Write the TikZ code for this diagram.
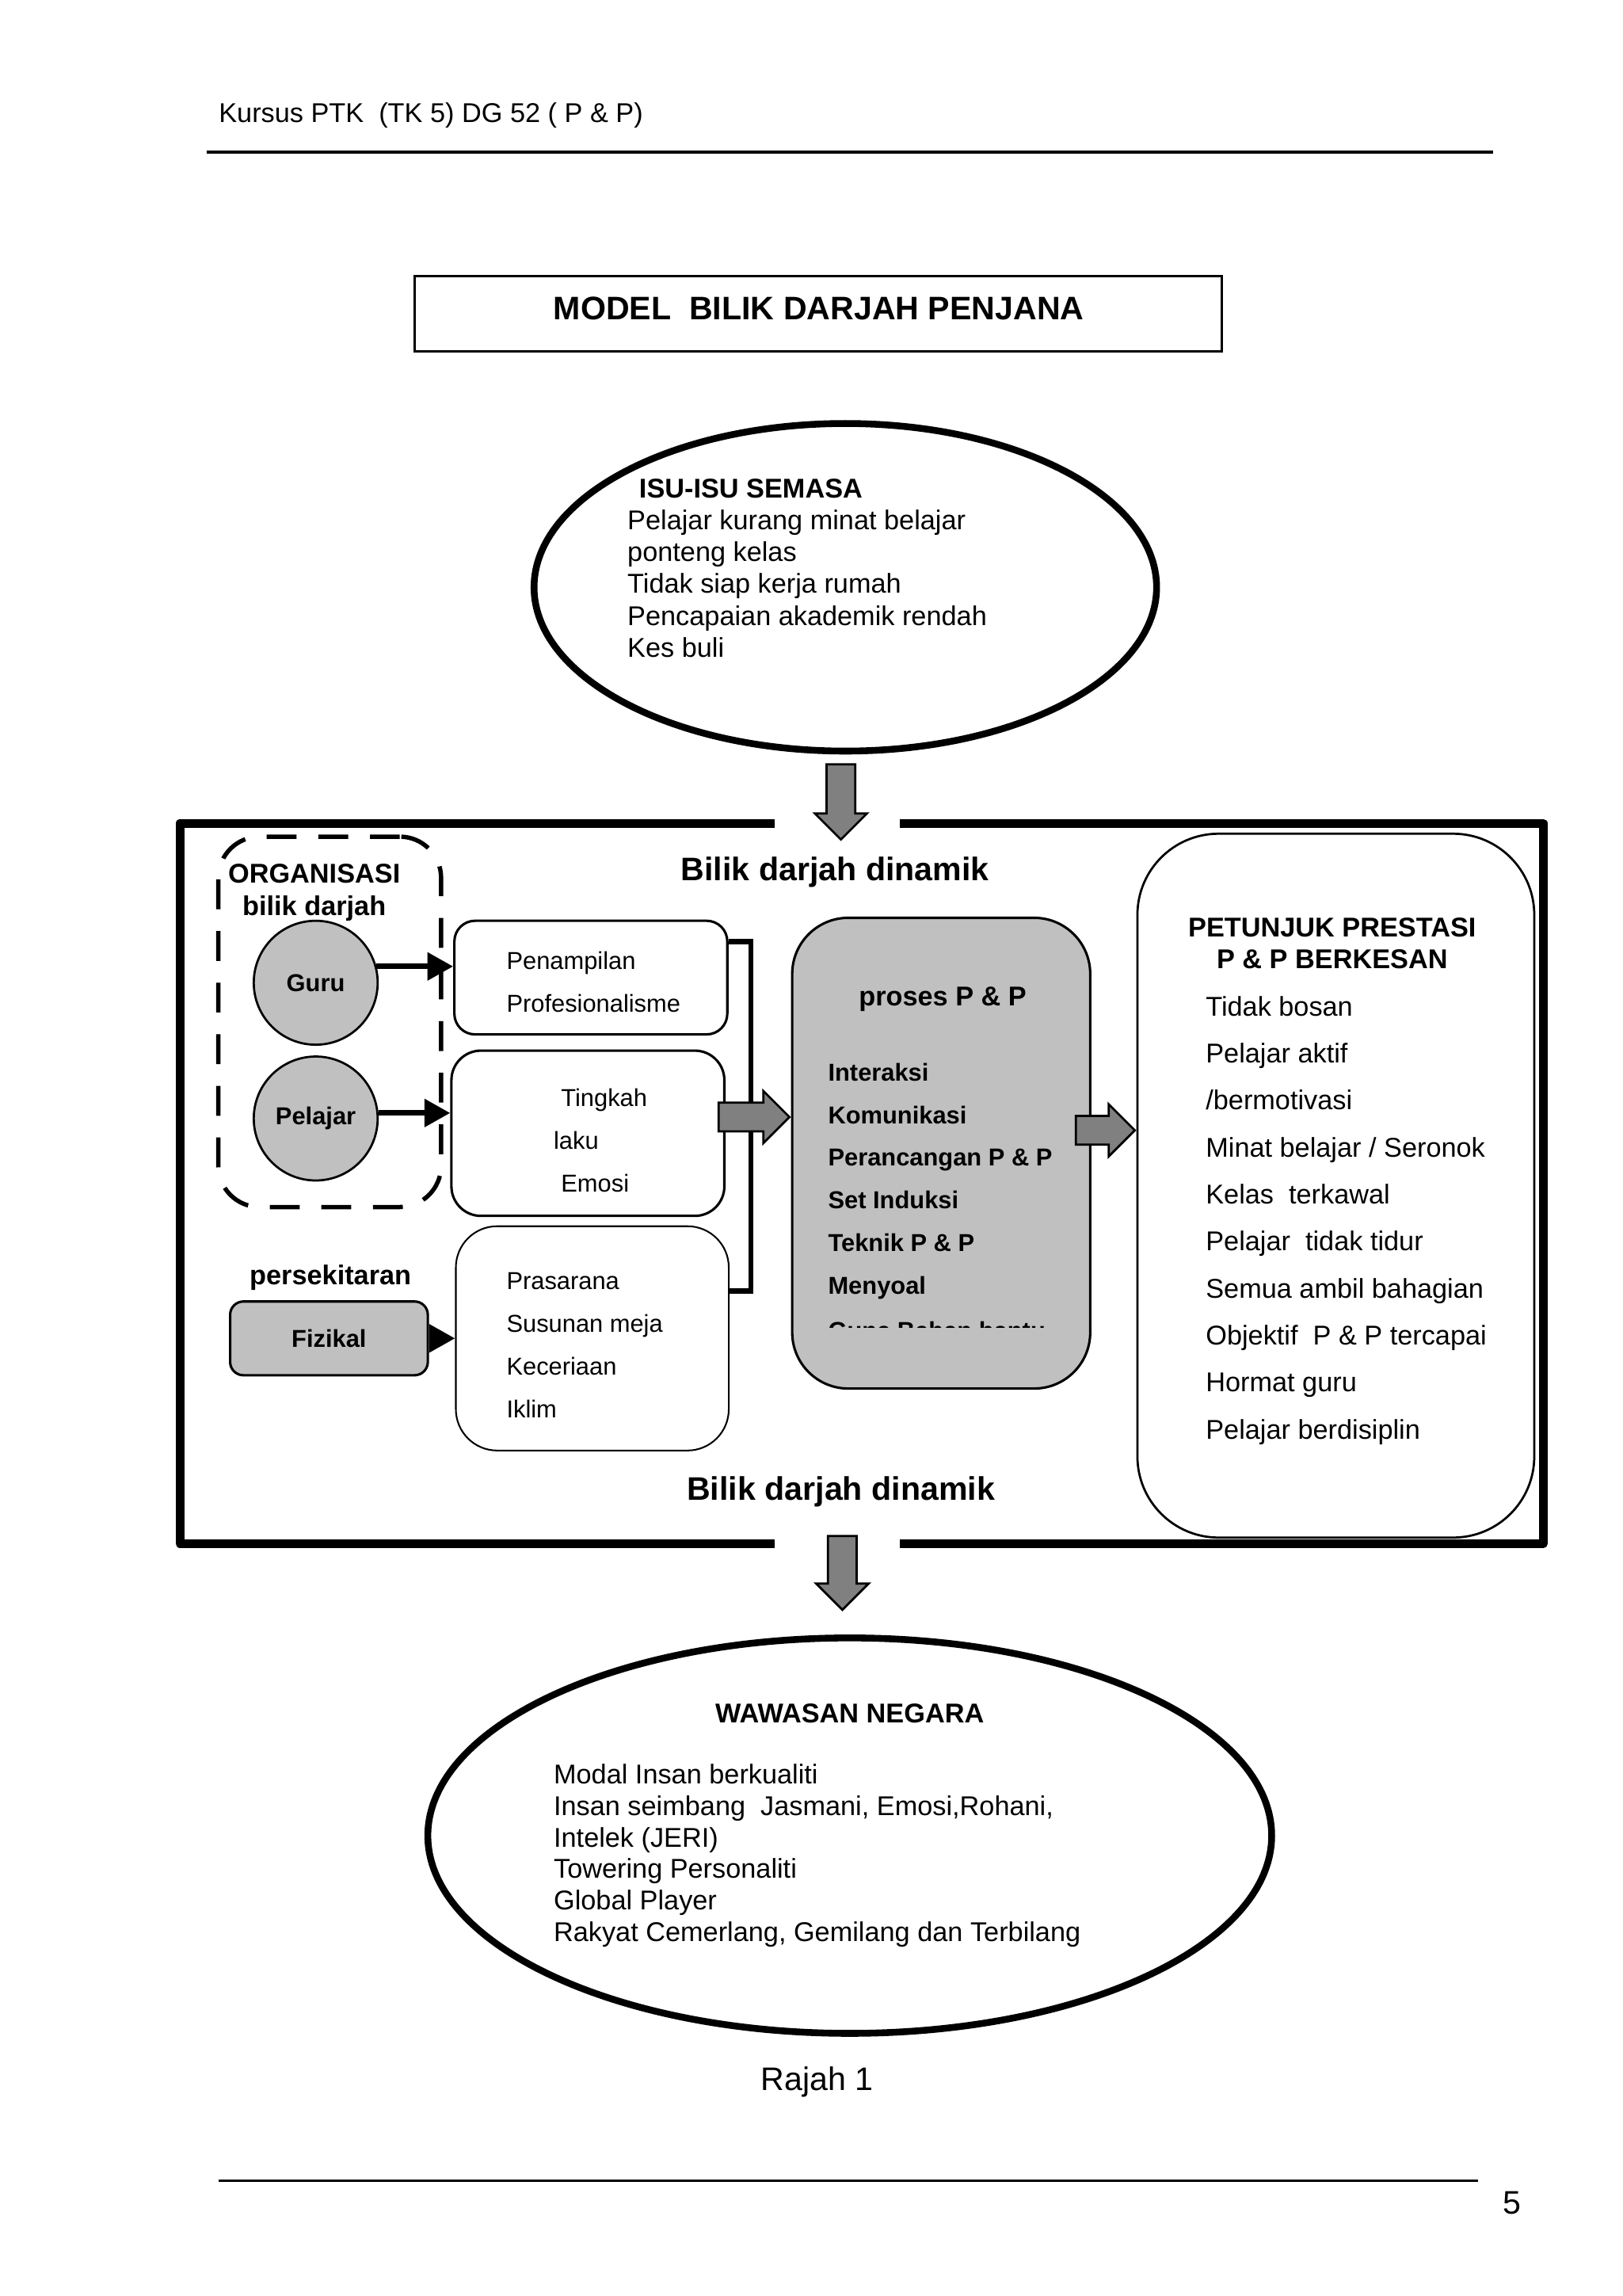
\documentclass[tikz,border=0pt]{standalone}
\usepackage{fontspec}
\setmainfont{Liberation Sans}
\usetikzlibrary{positioning,calc,shapes.geometric,shapes.arrows,arrows.meta}
\definecolor{lgrey}{HTML}{C0C0C0}
\definecolor{dgrey}{HTML}{808080}
\def\px{0.19091mm}
\tikzset{
	bx/.style={draw, line width=0.9pt, inner sep=0pt},
	oval/.style={ellipse, draw, line width=2.5pt, inner sep=0pt},
	blob/.style={circle, draw, fill=lgrey, line width=0.8pt, minimum size=84*\px, inner sep=0pt, font=\bfseries\fontsize{9}{10}\selectfont},
	txt/.style={inner sep=0pt, anchor=west, align=left, font=\fontsize{10}{11.6}\selectfont},
	smalltxt/.style={inner sep=0pt, anchor=west, align=left, font=\fontsize{9}{15.7}\selectfont},
	hd/.style={inner sep=0pt, align=center, font=\bfseries\fontsize{10}{11.6}\selectfont},
	big/.style={inner sep=0pt, font=\bfseries\fontsize{12}{14}\selectfont},
	blockarrow/.style={single arrow, draw, fill=dgrey, line width=0.8pt, inner xsep=0pt, inner ysep=9*\px, single arrow head extend=8*\px},
	bigframe/.style={line width=3.3pt, line join=round}
}
\begin{document}
\begin{tikzpicture}[x=\px, y=-\px, >={Triangle[length=9.5pt,width=10pt]}]
\fill[white] (0,0) rectangle (1100,1556);
\useasboundingbox (0,0) rectangle (1100,1556);

% page head
\node[txt] (head) at (148,78) {Kursus PTK\ \ (TK 5) DG 52 ( P \& P)};
\draw[line width=1pt] (140,103) -- (1012,103);
\node[bx, line width=0.8pt, minimum width=547*\px, minimum height=51*\px] (title) at (554.5,212.5) {};
\node[big] (titlelbl) at (555,209) {MODEL\ \ BILIK DARJAH PENJANA};

% isu-isu semasa
\node[oval, minimum width=422*\px, minimum height=222*\px] (isu) at (573,398) {};
\node[txt, font=\fontsize{10}{11.7}\selectfont] (isulbl) at (425,385) {\hspace{4.3pt}\textbf{ISU-ISU SEMASA}\\Pelajar kurang minat belajar\\ponteng kelas\\Tidak siap kerja rumah\\Pencapaian akademik rendah\\Kes buli};
\node[blockarrow, rotate=-90, anchor=tip, minimum height=51*\px] (down1) at (570,570) {};

% bilik darjah
\draw[bigframe] (525,558) -- (122,558) -- (122,1046) -- (525,1046);
\draw[bigframe] (610,558) -- (1046,558) -- (1046,1046) -- (610,1046);
\node[big] (dinamik1) at (566,591) {Bilik darjah dinamik};
\node[big] (dinamik2) at (570,1011) {Bilik darjah dinamik};

\node[draw, line width=1.6pt, dash pattern=on 11pt off 8pt, rounded corners=28*\px, minimum width=151*\px, minimum height=251*\px] (org) at (223.5,692.5) {};
\node[hd, font=\bfseries\fontsize{10}{11.9}\selectfont] (orglbl) at (213,605) {ORGANISASI\\bilik darjah};
\node[blob] (guru) at (214,666) {Guru};
\node[blob] (pelajar) at (214,758) {Pelajar};

\node[bx, minimum width=185*\px, minimum height=77*\px, rounded corners=14*\px] (penampilan) at (400.5,662.5) {};
\node[smalltxt] (penlbl) at (343,665.5) {Penampilan\\Profesionalisme};
\node[bx, minimum width=185*\px, minimum height=112*\px, rounded corners=20*\px] (tingkah) at (398.5,768) {};
\node[smalltxt] (tinglbl) at (375,773) {\hspace{2.7pt}Tingkah\\laku\\\hspace{2.7pt}Emosi};
\node[bx, line width=0.6pt, minimum width=185*\px, minimum height=152*\px, rounded corners=28*\px] (prasarana) at (401.5,907) {};
\node[smalltxt] (pralbl) at (343,911.5) {Prasarana\\Susunan meja\\Keceriaan\\Iklim};

\node[hd] (sekitar) at (224,866) {persekitaran};
\node[bx, fill=lgrey, minimum width=134*\px, minimum height=50*\px, rounded corners=9*\px, font=\bfseries\fontsize{9}{10}\selectfont] (fizikal) at (223,907) {Fizikal};

\draw[->, line width=2pt] (guru.15) -- (guru.15 -| penampilan.west);
\draw[->, line width=2pt] (pelajar.5) -- (pelajar.5 -| tingkah.west);
\draw[->, line width=2pt] (fizikal.east) -- (fizikal.east -| prasarana.west);
\draw[line width=2pt] (penampilan.east |- 0,638) -| (509,875) -- (prasarana.east |- 0,875);

% proses P & P
\node[bx, fill=lgrey, minimum width=202*\px, minimum height=319*\px, rounded corners=38*\px] (proses) at (638,781.5) {};
\node[hd] (proseslbl) at (639,677) {proses P \& P};
\node[smalltxt, font=\bfseries\fontsize{9}{15.7}\selectfont] (proseslst) at (561,800.5) {Interaksi\\Komunikasi\\Perancangan P \& P\\Set Induksi\\Teknik P \& P\\Menyoal};
\begin{scope}
	\clip (540,885) rectangle (735,899.5);
	\node[smalltxt, font=\bfseries\fontsize{9}{15.7}\selectfont] (guna) at (561,902) {Guna Bahan bantu};
\end{scope}
\node[blockarrow, anchor=tip, minimum height=48*\px] (toproses) at (proses.west |- 0,757) {};

% petunjuk prestasi
\node[bx, line width=0.8pt, minimum width=269*\px, minimum height=477*\px, rounded corners=55*\px] (petunjuk) at (905.5,803.5) {};
\node[blockarrow, anchor=tip, minimum height=40*\px] (topetunjuk) at (petunjuk.west |- 0,766) {};
\node[hd] (petlbl) at (903,639.5) {PETUNJUK PRESTASI\\P \& P BERKESAN};
\node[txt, font=\fontsize{10}{17.3}\selectfont] (petlst) at (817,827) {Tidak bosan\\Pelajar aktif\\/bermotivasi\\Minat belajar / Seronok\\Kelas\ \ terkawal\\Pelajar\ \ tidak tidur\\Semua ambil bahagian\\Objektif\ \ P \& P tercapai\\Hormat guru\\Pelajar berdisiplin};

% wawasan negara
\node[blockarrow, rotate=-90, anchor=tip, minimum height=50*\px] (down2) at (571,1092) {};
\node[oval, minimum width=572*\px, minimum height=268*\px] (wawasan) at (576,1244) {};
\node[hd] (wawlbl) at (576,1161) {WAWASAN NEGARA};
\node[txt] (wawlst) at (375,1257.5) {Modal Insan berkualiti\\Insan seimbang\ \ Jasmani, Emosi,Rohani,\\Intelek (JERI)\\Towering Personaliti\\Global Player\\Rakyat Cemerlang, Gemilang dan Terbilang};

\node[inner sep=0pt, font=\fontsize{12}{14}\selectfont] (rajah) at (554,1411) {Rajah 1};
\draw[line width=0.8pt] (148,1478) -- (1002,1478);
\node[inner sep=0pt, font=\fontsize{12}{14}\selectfont] (pageno) at (1025,1493) {5};
\end{tikzpicture}
\end{document}
